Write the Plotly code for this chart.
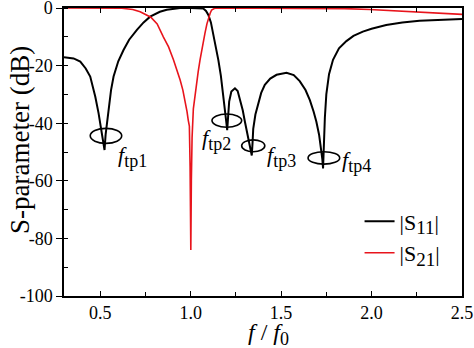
import plotly.graph_objects as go

# ---- data ----
s11_x = [0.30, 0.353, 0.39, 0.42, 0.445, 0.473, 0.491, 0.51, 0.518, 0.524,
         0.530, 0.537, 0.546, 0.56, 0.574, 0.60, 0.629, 0.66, 0.703, 0.74,
         0.776, 0.83, 0.868, 0.91, 0.942, 1.0, 1.07, 1.085, 1.098, 1.112,
         1.125, 1.14, 1.153, 1.167, 1.18, 1.19, 1.197, 1.202, 1.207, 1.213,
         1.225, 1.245, 1.26, 1.272, 1.288, 1.30, 1.315, 1.327, 1.334, 1.338,
         1.342, 1.346, 1.358, 1.373, 1.39, 1.41, 1.44, 1.475, 1.53, 1.57,
         1.603, 1.635, 1.659, 1.68, 1.695, 1.71, 1.72, 1.728, 1.732, 1.736,
         1.742, 1.75, 1.765, 1.787, 1.82, 1.861, 1.90, 1.952, 2.0, 2.081,
         2.17, 2.265, 2.38, 2.5]
s11_y = [-17.1, -17.5, -18.6, -21.0, -23.8, -30.8, -36.5, -43.5, -46.5, -49.3,
         -44.0, -40.0, -35.4, -28.5, -23.8, -18.5, -14.6, -11.0, -7.6, -5.0,
         -3.0, -1.3, -0.6, -0.2, 0.0, 0.0, -0.2, -1.0, -2.4, -5.0,
         -8.8, -13.0, -18.0, -23.5, -29.6, -35.0, -39.5, -42.4, -37.0, -32.5,
         -29.0, -27.9, -28.8, -31.4, -35.5, -39.5, -44.0, -47.5, -50.0, -51.2,
         -47.0, -42.0, -37.0, -33.2, -29.5, -26.7, -24.5, -23.2, -22.5, -23.3,
         -25.4, -28.5, -32.0, -36.0, -39.5, -44.0, -48.0, -52.5, -55.7, -48.0,
         -38.0, -30.0, -23.0, -18.0, -14.0, -11.5, -9.7, -8.2, -7.2, -5.9,
         -5.0, -4.4, -4.0, -3.8]

s21_x = [0.30, 0.45, 0.55, 0.62, 0.68, 0.721, 0.78, 0.815, 0.849, 0.878,
         0.905, 0.925, 0.942, 0.957, 0.969, 0.98, 0.987, 0.993, 0.997, 0.9995,
         1.001, 1.004, 1.008, 1.015, 1.024, 1.033, 1.042, 1.052, 1.065, 1.079,
         1.09, 1.098, 1.108, 1.116, 1.13, 1.144, 1.3, 1.5, 1.7, 1.85,
         1.99, 2.13, 2.265, 2.38, 2.5]
s21_y = [0.0, 0.0, -0.05, -0.1, -0.5, -1.3, -3.2, -5.5, -10.0, -13.5,
         -18.0, -21.5, -25.0, -28.5, -32.0, -36.0, -39.0, -41.0, -55.0, -70.0,
         -84.0, -60.0, -45.0, -35.0, -30.0, -26.0, -22.0, -18.0, -13.0, -8.8,
         -5.5, -3.6, -1.8, -0.7, -0.2, 0.0, 0.0, 0.0, -0.05, -0.2,
         -0.5, -0.9, -1.3, -1.7, -2.2]

x_tickvals = [0.5, 1.0, 1.5, 2.0, 2.5]
x_ticktext = ["0.5", "1.0", "1.5", "2.0", "2.5"]
y_tickvals = [0, -20, -40, -60, -80, -100]
y_ticktext = ["0", "-20", "-40", "-60", "-80", "-100"]

# turning-point markers (ellipse bounds and label anchors)
tp_labels = ["tp1", "tp2", "tp3", "tp4"]
tp_ell = [(0.445, 0.619, -41.8, -47.0),
          (1.118, 1.282, -36.8, -41.4),
          (1.282, 1.41, -45.8, -49.9),
          (1.649, 1.824, -49.9, -54.2)]
tp_lab = [(0.588, -51.7), (1.052, -45.8), (1.41, -51.4), (1.824, -53.3)]

FONT = "Liberation Serif"
SUB = "<sub><span style='font-size:{}px'>{}</span></sub>"

fig = go.Figure()
fig.add_trace(go.Scatter(x=s11_x, y=s11_y, mode="lines",
                         line=dict(color="black", width=2),
                         name="|S" + SUB.format(19, "11") + "|"))
fig.add_trace(go.Scatter(x=s21_x, y=s21_y, mode="lines",
                         line=dict(color="#e8141c", width=1.6),
                         name="|S" + SUB.format(19, "21") + "|"))

shapes = []
for (x0, x1, y0, y1) in tp_ell:
    shapes.append(dict(type="circle", xref="x", yref="y", x0=x0, x1=x1,
                       y0=y0, y1=y1, line=dict(color="black", width=1.6),
                       layer="above"))

annotations = []
for (lx, ly), lab in zip(tp_lab, tp_labels):
    annotations.append(dict(x=lx, y=ly, xref="x", yref="y", xanchor="left",
                            yanchor="middle", showarrow=False,
                            text="<i>f</i>" + SUB.format(18, lab),
                            font=dict(family=FONT, size=22, color="black")))
annotations.append(dict(x=0, y=0.542, xref="paper", yref="paper",
                        xanchor="center", yanchor="middle", xshift=-44,
                        textangle=-90, showarrow=False,
                        text="S-parameter (dB)",
                        font=dict(family=FONT, size=27, color="black")))
annotations.append(dict(x=0.515, y=0, xref="paper", yref="paper",
                        xanchor="center", yanchor="top", yshift=-21,
                        showarrow=False,
                        text="<i>f</i> / <i>f</i>" + SUB.format(18, "0"),
                        font=dict(family=FONT, size=24, color="black")))

fig.update_layout(
    width=474, height=348,
    margin=dict(l=64, r=12, t=8, b=52, autoexpand=False),
    paper_bgcolor="white", plot_bgcolor="white",
    font=dict(family=FONT, size=18, color="black"),
    shapes=shapes, annotations=annotations,
    legend=dict(x=0.7426, y=0.332, xanchor="left", yanchor="top",
                bgcolor="rgba(0,0,0,0)", itemwidth=30,
                font=dict(family=FONT, size=22, color="black"),
                tracegroupgap=0),
    xaxis=dict(range=[0.3, 2.5], tickvals=x_tickvals, ticktext=x_ticktext,
               ticks="inside", ticklen=5, tickwidth=1.2, tickcolor="black",
               minor=dict(ticks="inside", dtick=0.25, tick0=0.25, ticklen=4,
                          tickcolor="black", tickwidth=1.2),
               showline=True, linecolor="black", linewidth=1.5,
               mirror="ticks", showgrid=False, zeroline=False,
               automargin=False, ticklabeloverflow="allow",
               tickfont=dict(family=FONT, size=18)),
    yaxis=dict(range=[-100, 0], tickvals=y_tickvals, ticktext=y_ticktext,
               ticks="outside", ticklen=6, tickwidth=1.2, tickcolor="black",
               minor=dict(ticks="inside", dtick=10, tick0=0, ticklen=4,
                          tickcolor="black", tickwidth=1.2),
               showline=True, linecolor="black", linewidth=1.5,
               mirror=True, showgrid=False, zeroline=False,
               automargin=False, ticklabeloverflow="allow",
               tickfont=dict(family=FONT, size=18)),
    yaxis2=dict(range=[-100, 0], overlaying="y", side="left",
                tickvals=y_tickvals, ticks="inside", ticklen=4, tickwidth=1.2,
                tickcolor="black", showticklabels=False, showline=False,
                showgrid=False, zeroline=False, automargin=False),
)

fig.write_html("out.html")
